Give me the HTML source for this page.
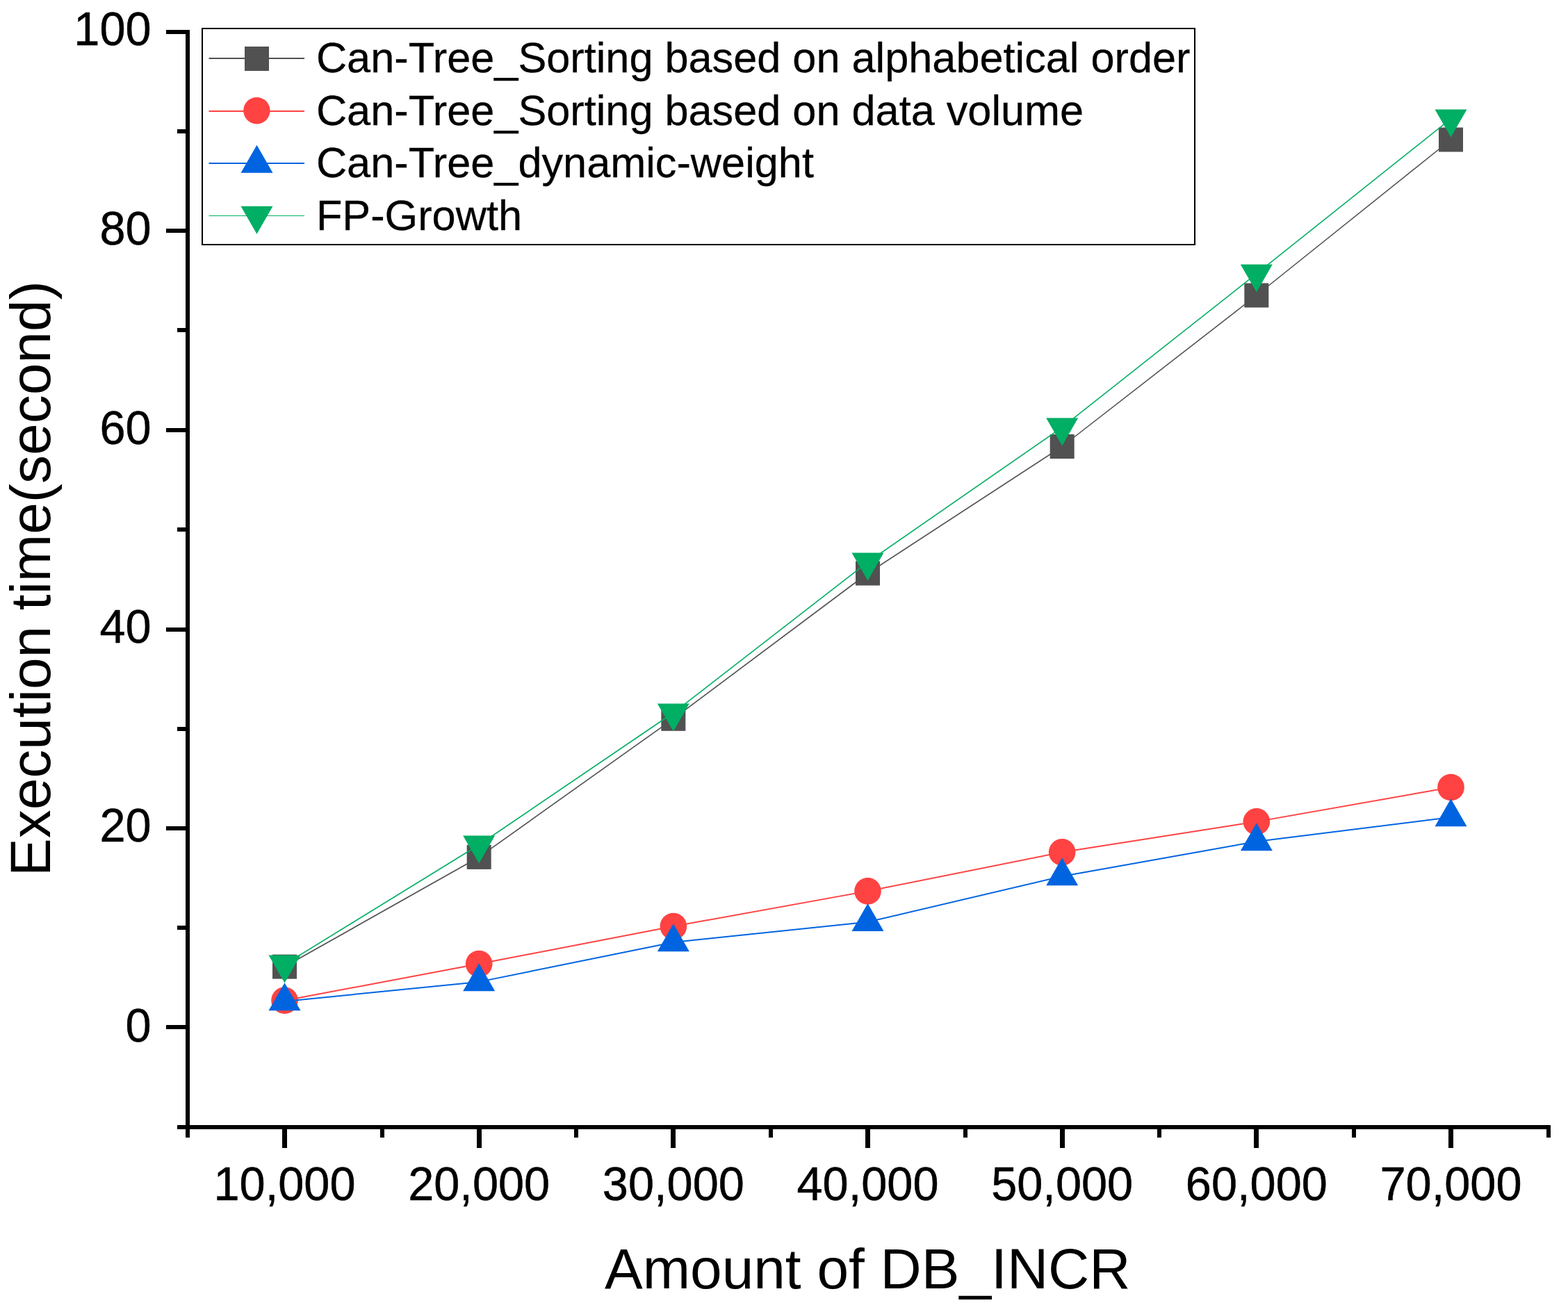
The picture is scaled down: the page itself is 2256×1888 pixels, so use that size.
<!DOCTYPE html><html><head><meta charset="utf-8"><title>Execution time chart</title><style>html,body{margin:0;padding:0;background:#fff}svg{display:block}text{font-family:"Liberation Sans",Arial,sans-serif;fill:#000}</style></head><body>
<svg width="2256" height="1888" viewBox="0 0 2256 1888">
<rect width="2256" height="1888" fill="#fff"/>
<g fill="#000" shape-rendering="crispEdges">
<rect x="267" y="43" width="6" height="1582"/>
<rect x="255" y="1619" width="1976" height="6"/>
<rect x="239" y="43" width="28" height="6"/>
<rect x="239" y="329" width="28" height="6"/>
<rect x="239" y="616" width="28" height="6"/>
<rect x="239" y="903" width="28" height="6"/>
<rect x="239" y="1189" width="28" height="6"/>
<rect x="239" y="1475" width="28" height="6"/>
<rect x="255" y="186" width="12" height="6"/>
<rect x="255" y="472" width="12" height="6"/>
<rect x="255" y="759" width="12" height="6"/>
<rect x="255" y="1046" width="12" height="6"/>
<rect x="255" y="1332" width="12" height="6"/>
<rect x="406" y="1625" width="7" height="27"/>
<rect x="686" y="1625" width="7" height="27"/>
<rect x="965" y="1625" width="7" height="27"/>
<rect x="1245" y="1625" width="7" height="27"/>
<rect x="1525" y="1625" width="7" height="27"/>
<rect x="1804" y="1625" width="7" height="27"/>
<rect x="2084" y="1625" width="7" height="27"/>
<rect x="267" y="1625" width="6" height="12"/>
<rect x="547" y="1625" width="6" height="12"/>
<rect x="826" y="1625" width="6" height="12"/>
<rect x="1106" y="1625" width="6" height="12"/>
<rect x="1386" y="1625" width="6" height="12"/>
<rect x="1665" y="1625" width="6" height="12"/>
<rect x="1945" y="1625" width="6" height="12"/>
<rect x="2225" y="1625" width="6" height="12"/>
</g>
<g font-size="66.7" text-anchor="end" stroke="#000" stroke-width="0.5">
<text transform="translate(217.6,64.8) scale(1,1.035)">100</text>
<text transform="translate(217.6,352.1) scale(1,1.035)">80</text>
<text transform="translate(217.6,639.1) scale(1,1.035)">60</text>
<text transform="translate(217.6,924.6) scale(1,1.035)">40</text>
<text transform="translate(217.6,1211) scale(1,1.035)">20</text>
<text transform="translate(217.6,1499.2) scale(1,1.035)">0</text>
</g>
<g font-size="66.7" text-anchor="middle" stroke="#000" stroke-width="0.5">
<text transform="translate(409.5,1727) scale(1,1.04)">10,000</text>
<text transform="translate(689.17,1727) scale(1,1.04)">20,000</text>
<text transform="translate(968.83,1727) scale(1,1.04)">30,000</text>
<text transform="translate(1248.5,1727) scale(1,1.04)">40,000</text>
<text transform="translate(1528.17,1727) scale(1,1.04)">50,000</text>
<text transform="translate(1807.83,1727) scale(1,1.04)">60,000</text>
<text transform="translate(2087.5,1727) scale(1,1.04)">70,000</text>
</g>
<text x="1248.3" y="1853.9" font-size="82" text-anchor="middle">Amount of DB_INCR</text>
<text transform="translate(72.2,832.6) rotate(-90)" x="0" y="0" font-size="82" text-anchor="middle">Execution time(second)</text>
<g stroke="#515151" stroke-linecap="round"><line x1="409.5" y1="1391.1" x2="689.17" y2="1233.4" stroke-width="1.74"/><line x1="689.17" y1="1233.4" x2="968.83" y2="1034.3" stroke-width="1.63"/><line x1="968.83" y1="1034.3" x2="1248.5" y2="825" stroke-width="1.60"/><line x1="1248.5" y1="825" x2="1528.17" y2="642.5" stroke-width="1.67"/><line x1="1528.17" y1="642.5" x2="1807.83" y2="425" stroke-width="1.58"/><line x1="1807.83" y1="425" x2="2087.5" y2="201" stroke-width="1.56"/></g>
<rect x="392" y="1373.6" width="35" height="35" fill="#515151"/>
<rect x="671.67" y="1215.9" width="35" height="35" fill="#515151"/>
<rect x="951.33" y="1016.8" width="35" height="35" fill="#515151"/>
<rect x="1231" y="807.5" width="35" height="35" fill="#515151"/>
<rect x="1510.67" y="625" width="35" height="35" fill="#515151"/>
<rect x="1790.33" y="407.5" width="35" height="35" fill="#515151"/>
<rect x="2070" y="183.5" width="35" height="35" fill="#515151"/>
<g stroke="#FF4242" stroke-linecap="round"><line x1="409.5" y1="1439.7" x2="689.17" y2="1387" stroke-width="1.97"/><line x1="689.17" y1="1387" x2="968.83" y2="1333" stroke-width="1.96"/><line x1="968.83" y1="1333" x2="1248.5" y2="1282.4" stroke-width="1.97"/><line x1="1248.5" y1="1282.4" x2="1528.17" y2="1226.3" stroke-width="1.96"/><line x1="1528.17" y1="1226.3" x2="1807.83" y2="1182.4" stroke-width="1.98"/><line x1="1807.83" y1="1182.4" x2="2087.5" y2="1133" stroke-width="1.97"/></g>
<circle cx="409.5" cy="1439.7" r="19.3" fill="#FF4242"/>
<circle cx="689.17" cy="1387" r="19.3" fill="#FF4242"/>
<circle cx="968.83" cy="1333" r="19.3" fill="#FF4242"/>
<circle cx="1248.5" cy="1282.4" r="19.3" fill="#FF4242"/>
<circle cx="1528.17" cy="1226.3" r="19.3" fill="#FF4242"/>
<circle cx="1807.83" cy="1182.4" r="19.3" fill="#FF4242"/>
<circle cx="2087.5" cy="1133" r="19.3" fill="#FF4242"/>
<g stroke="#0064E0" stroke-linecap="round"><line x1="409.5" y1="1441" x2="689.17" y2="1412.9" stroke-width="1.99"/><line x1="689.17" y1="1412.9" x2="968.83" y2="1356" stroke-width="1.96"/><line x1="968.83" y1="1356" x2="1248.5" y2="1326.7" stroke-width="1.99"/><line x1="1248.5" y1="1326.7" x2="1528.17" y2="1261" stroke-width="1.95"/><line x1="1528.17" y1="1261" x2="1807.83" y2="1211" stroke-width="1.97"/><line x1="1807.83" y1="1211" x2="2087.5" y2="1176" stroke-width="1.98"/></g>
<polygon points="409.5,1414.33 432.5,1454.33 386.5,1454.33" fill="#0064E0"/>
<polygon points="689.17,1386.23 712.17,1426.23 666.17,1426.23" fill="#0064E0"/>
<polygon points="968.83,1329.33 991.83,1369.33 945.83,1369.33" fill="#0064E0"/>
<polygon points="1248.5,1300.03 1271.5,1340.03 1225.5,1340.03" fill="#0064E0"/>
<polygon points="1528.17,1234.33 1551.17,1274.33 1505.17,1274.33" fill="#0064E0"/>
<polygon points="1807.83,1184.33 1830.83,1224.33 1784.83,1224.33" fill="#0064E0"/>
<polygon points="2087.5,1149.33 2110.5,1189.33 2064.5,1189.33" fill="#0064E0"/>
<g stroke="#00AE64" stroke-linecap="round"><line x1="409.5" y1="1387.9" x2="689.17" y2="1215.8" stroke-width="1.70"/><line x1="689.17" y1="1215.8" x2="968.83" y2="1025.8" stroke-width="1.65"/><line x1="968.83" y1="1025.8" x2="1248.5" y2="808.9" stroke-width="1.58"/><line x1="1248.5" y1="808.9" x2="1528.17" y2="614.9" stroke-width="1.64"/><line x1="1528.17" y1="614.9" x2="1807.83" y2="393.9" stroke-width="1.57"/><line x1="1807.83" y1="393.9" x2="2087.5" y2="170.9" stroke-width="1.56"/></g>
<polygon points="409.5,1414.57 432.5,1374.57 386.5,1374.57" fill="#00AE64"/>
<polygon points="689.17,1242.47 712.17,1202.47 666.17,1202.47" fill="#00AE64"/>
<polygon points="968.83,1052.47 991.83,1012.47 945.83,1012.47" fill="#00AE64"/>
<polygon points="1248.5,835.57 1271.5,795.57 1225.5,795.57" fill="#00AE64"/>
<polygon points="1528.17,641.57 1551.17,601.57 1505.17,601.57" fill="#00AE64"/>
<polygon points="1807.83,420.57 1830.83,380.57 1784.83,380.57" fill="#00AE64"/>
<polygon points="2087.5,197.57 2110.5,157.57 2064.5,157.57" fill="#00AE64"/>
<rect x="291" y="41" width="1428" height="311" fill="none" stroke="#000" stroke-width="2"/>
<rect x="300.5" y="83" width="137.5" height="2" fill="#515151"/>
<rect x="352" y="67" width="35" height="35" fill="#515151"/>
<text x="454.9" y="104.1" font-size="61.25" stroke="#000" stroke-width="0.3">Can-Tree_Sorting based on alphabetical order</text>
<rect x="300.5" y="159" width="137.5" height="2" fill="#FF4242"/>
<circle cx="369.4" cy="159.2" r="19.2" fill="#FF4242"/>
<text x="454.9" y="180.1" font-size="61.25" stroke="#000" stroke-width="0.3">Can-Tree_Sorting based on data volume</text>
<rect x="300.5" y="234" width="137.5" height="2" fill="#0064E0"/>
<polygon points="369.5,208.63 392.5,248.63 346.5,248.63" fill="#0064E0"/>
<text x="454.9" y="255.3" font-size="61.25" stroke="#000" stroke-width="0.3">Can-Tree_dynamic-weight</text>
<rect x="300.5" y="310" width="137.5" height="1" fill="#00AE64"/>
<polygon points="369.5,336.87 392.5,296.87 346.5,296.87" fill="#00AE64"/>
<text x="454.9" y="330.8" font-size="61.25" stroke="#000" stroke-width="0.3">FP-Growth</text>
</svg></body></html>
